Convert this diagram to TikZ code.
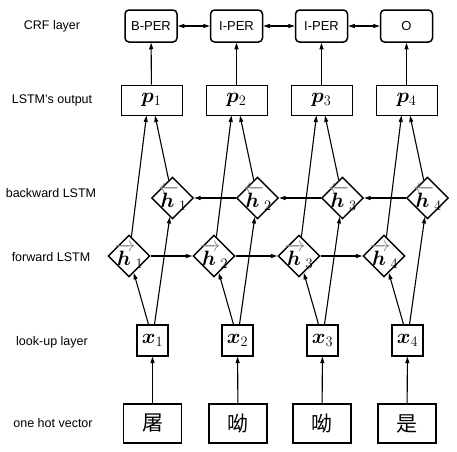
\documentclass[tikz,border=0pt]{standalone}
\usepackage{amsmath,bm}
\usepackage{fontspec}
\setsansfont{Liberation Sans}
\newfontfamily\cjk{Noto Sans CJK SC}
\usetikzlibrary{shapes.geometric,arrows.meta}
\newcommand{\hfw}[1]{{\color{gray}\overrightarrow{\color{black}\bm{h}\mkern2mu}}_{#1}}
\newcommand{\hbw}[1]{{\color{gray}\overleftarrow{\color{black}\bm{h}\mkern2mu}}_{#1}}
\begin{document}
\begin{tikzpicture}[x=1pt,y=-1pt,
  lbl/.style={font=\fontsize{12.5}{14}\sffamily},
  crfbox/.style={draw,line width=1.5pt,rounded corners=4pt,minimum width=52pt,minimum height=32pt,inner sep=0pt,font=\fontsize{13}{14}\sffamily},
  pbox/.style={draw,line width=1pt,minimum width=61pt,minimum height=30pt,inner sep=0pt,font=\fontsize{21}{24}\selectfont},
  xbox/.style={draw,line width=1.2pt,minimum width=31pt,minimum height=31pt,inner sep=0pt,font=\fontsize{20}{24}\selectfont},
  chbox/.style={draw,line width=1.8pt,minimum width=58pt,minimum height=39pt,inner sep=0pt,font=\fontsize{21}{24}\cjk},
  dia/.style={draw,diamond,aspect=1,line width=1.4pt,minimum width=42pt,minimum height=42pt,inner sep=0pt},
  htxt/.style={font=\fontsize{20}{22}\selectfont,inner sep=0pt},
  con/.style={line width=1.1pt,-{Triangle[length=6.5pt,width=4pt]}},
  dcon/.style={line width=1.1pt,{Triangle[length=6.5pt,width=4pt]}-{Triangle[length=6.5pt,width=4pt]}}
]
\useasboundingbox (0,0) rectangle (457,451);
% left labels
\node[lbl] (l1) at (52,26) {CRF layer};
\node[lbl] (l2) at (52,100) {LSTM's output};
\node[lbl] (l3) at (51,193) {backward LSTM};
\node[lbl] (l4) at (51,257) {forward LSTM};
\node[lbl] (l5) at (52,342) {look-up layer};
\node[lbl] (l6) at (53,423) {one hot vector};
% CRF
\node[crfbox] (c1) at (151,26) {B-PER};
\node[crfbox] (c2) at (236.5,26) {I-PER};
\node[crfbox] (c3) at (321.5,26) {I-PER};
\node[crfbox] (c4) at (406.5,26) {O};
\foreach \i/\x in {1/151.5,2/236.5,3/321.5,4/406.5}{
  \node[pbox] (p\i) at (\x,100) {$\bm{p}_{\i}$};
  \node[dia,label={[htxt]center:$\hbw{\i}$}] (b\i) at (\x+21,198) {};
  \node[dia,label={[htxt]center:$\hfw{\i}$}] (f\i) at (\x-22.5,256) {};
  \node[xbox] (x\i) at (\x+1,340.5) {$\bm{x}_{\i}$};
}
\node[chbox] (w1) at (152.5,423.5) {屠};
\node[chbox] (w2) at (238,423.5) {呦};
\node[chbox] (w3) at (322,423.5) {呦};
\node[chbox,line width=2.2pt] (w4) at (407,423.5) {是};
% connectors
\foreach \i in {1,2,3,4}{
  \draw[con] (w\i) -- (x\i);
  \draw[con] ([xshift=-4pt]x\i.north) -- (f\i);
  \draw[con] ([xshift=2pt]x\i.north) -- (b\i);
  \draw[con] (f\i) -- ([xshift=-5pt]p\i.south);
  \draw[con] (b\i) -- ([xshift=3.5pt]p\i.south);
  \draw[con] (p\i) -- (c\i);
}
\foreach \i/\j in {1/2,2/3,3/4}{
  \draw[con] (f\i.east) -- (f\j.west);
  \draw[con] (b\j.west) -- (b\i.east);
  \draw[dcon] (c\i) -- (c\j);
}
\end{tikzpicture}
\end{document}
